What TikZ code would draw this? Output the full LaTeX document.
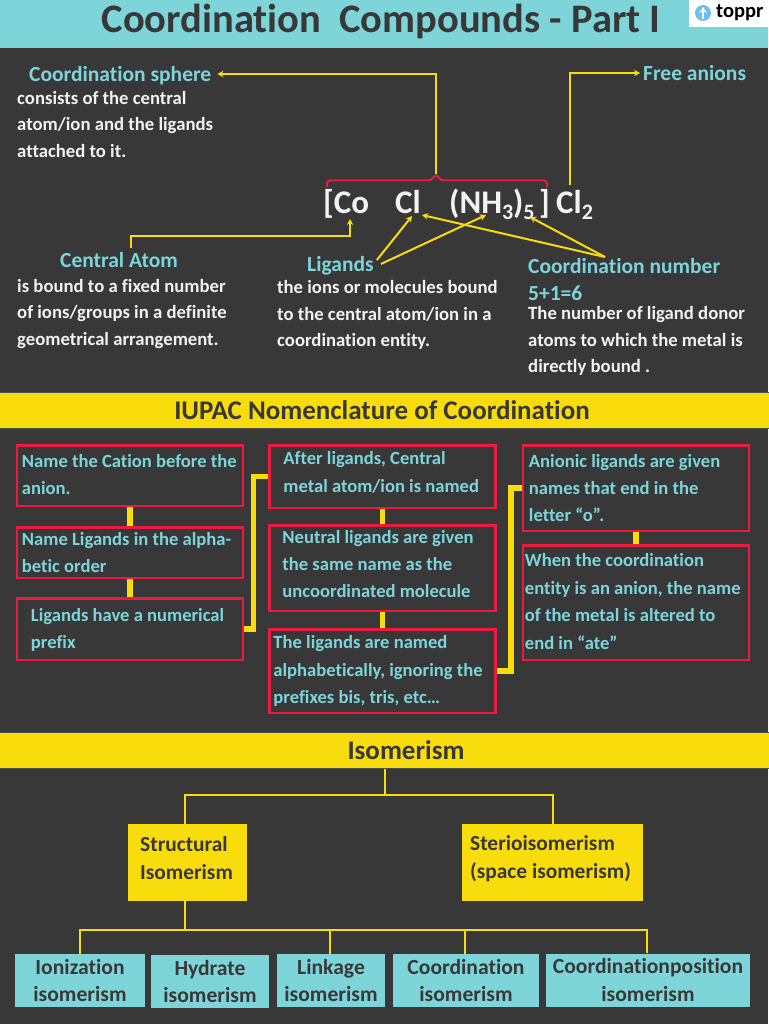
\documentclass[tikz,border=0pt]{standalone}
\usepackage{fontspec}
\setmainfont{Carlito}[BoldFont=Carlito Bold, Ligatures=NoCommon]
\usepackage{tikz}
\usetikzlibrary{positioning, arrows.meta}
\definecolor{slate}{HTML}{383838}
\definecolor{aqua}{HTML}{7DD5DA}
\definecolor{sun}{HTML}{F9DC0B}
\definecolor{crimson}{HTML}{E91C3F}
\definecolor{paper}{HTML}{F2F2F2}
\definecolor{logoblue}{HTML}{6CBFEF}
\newcommand{\lowered}[1]{\raisebox{-6pt}{\fontsize{22}{22}\selectfont #1}}
\tikzset{
    heading/.style={inner sep=0, text=slate, font=\bfseries\fontsize{#1}{#1}\selectfont},
    band/.style={fill=sun, draw=black!70, line width=0.5pt, minimum width=770pt, minimum height=36pt, inner sep=0},
    para/.style={inner sep=0, anchor=west, align=left, text=paper, font=\bfseries\fontsize{18.7}{26.6}\selectfont},
    tag/.style={inner sep=0, anchor=west, text=aqua, font=\bfseries\fontsize{21.5}{27}\selectfont},
    formula/.style={inner sep=0, anchor=base west, text=paper, font=\bfseries\fontsize{33}{33}\selectfont},
    redbox/.style={draw=crimson, line width=2.5pt, minimum width=226pt, inner sep=0},
    boxtext/.style={inner sep=0, anchor=west, align=left, text=aqua, font=\bfseries\fontsize{18.6}{27.4}\selectfont},
    sunbox/.style={fill=sun, inner sep=0, anchor=west, minimum height=77pt},
    suntext/.style={inner sep=0, anchor=west, align=left, text=slate, font=\bfseries\fontsize{21.4}{28}\selectfont},
    aquabox/.style={fill=aqua, inner sep=0, minimum height=53pt, align=center, text=slate, font=\bfseries\fontsize{21.6}{27.5}\selectfont},
    thicklink/.style={draw=sun, line width=5.5pt},
    thinlink/.style={draw=sun, line width=2pt},
    pointer/.style={draw=sun, line width=2pt, -{Stealth[length=6pt,width=6.5pt]}},
}
\begin{document}
\begin{tikzpicture}[x=1pt, y=-1pt]
    \useasboundingbox (0,0) rectangle (768,1024);
    \fill [slate] (0,0) rectangle (768,1024);
    % Title bar and logo
    \fill [aqua] (0,0) rectangle (768,48);
    \node [heading=40.5] (title) at (381,21) {Coordination~ Compounds - Part I};
    \fill [white] (689,0) rectangle (768,27);
    \fill [logoblue] (703,13) circle (8);
    \draw [white, line width=2pt, -{Stealth[length=6pt,width=8pt]}] (703,19) -- (703,7);
    \node [inner sep=0, anchor=west, text=black, font=\bfseries\fontsize{20.5}{20}\selectfont] (logo) at (716,13) {toppr};

    % Formula
    \node [formula] (co) at (323,214) {[Co};
    \node [formula] (cl) at (395,214) {Cl};
    \node [formula] (nh) at (449,214) {(NH\lowered{3})\lowered{5}};
    \node [formula] (close) at (539,214) {]};
    \node [formula] (cltwo) at (556,214) {Cl\lowered{2}};
    % Brace over the sphere
    \coordinate (bracetip) at (436,174);
    \draw [crimson, line width=2pt, rounded corners=3pt] (327,187) -- (327,180.5) -- (431,180.5) -- (bracetip) -- (441,180.5) -- (547,180.5) -- (547,187);

    % Upper labels
    \node [tag] (sphere) at (29,76) {Coordination sphere};
    \node [para] (spheretext) at (17,124.5) {consists of the central\\atom/ion and the ligands\\attached to it.};
    \node [tag] (anions) at (643,73) {Free anions};
    \draw [pointer] (bracetip) |- ([xshift=6pt,yshift=2pt]sphere.east);
    \coordinate (anionfoot) at (570,185);
    \draw [pointer] (anionfoot) |- ([xshift=-3pt]anions.west);

    % Lower labels
    \node [tag] (central) at (60,260) {Central Atom};
    \node [para] (centraltext) at (17,314) {is bound to a fixed number\\of ions/groups in a definite\\geometrical arrangement.};
    \node [tag] (ligands) at (307,266) {Ligands};
    \node [para] (ligandstext) at (277,315) {the ions or molecules bound\\to the central atom/ion in a\\coordination entity.};
    \node [tag, align=left] (number) at (528,279.5) {Coordination number\\5+1=6};
    \node [para] (numbertext) at (528,341) {The number of ligand donor\\atoms to which the metal is\\directly bound .};
    % Pointers to the formula
    \coordinate (centralfoot) at (131,248);
    \coordinate (numbertop) at (605,257);
    \coordinate (cotip) at (350,219);
    \coordinate (clleft) at (412,216);
    \coordinate (clright) at (422,215);
    \coordinate (nhtip) at (486,215);
    \coordinate (fivetip) at (530,217);
    \draw [pointer] (centralfoot) -- ++(0,-12) -| (cotip);
    \draw [pointer] ([xshift=3pt,yshift=6pt]ligands.east) -- (clleft);
    \draw [pointer] ([xshift=7pt,yshift=2pt]ligands.east) -- (nhtip);
    \draw [pointer] (numbertop) -- (clright);
    \draw [pointer] (numbertop) -- (fivetip);

    % IUPAC section
    \node [band] (iupac) at (384,410) {};
    \node [heading=27] (iupactitle) at (382,410) {IUPAC Nomenclature of Coordination};

    \node [redbox, minimum height=60.5pt] (boxa) at (130,475.5) {};
    \node [redbox, minimum height=50.5pt] (boxb) at (130,552.5) {};
    \node [redbox, minimum height=61.5pt] (boxc) at (130,629) {};
    \node [redbox, minimum height=62.5pt] (boxd) at (382.5,476.5) {};
    \node [redbox, minimum height=85.5pt] (boxe) at (382.5,568) {};
    \node [redbox, minimum height=83.5pt] (boxf) at (382.5,671) {};
    \node [redbox, minimum height=85.5pt] (boxg) at (636,488) {};
    \node [redbox, minimum height=114.5pt] (boxh) at (636,602.5) {};

    \node [boxtext] (texta) at ([xshift=6pt,yshift=1pt]boxa.west) {Name the Cation before the\\anion.};
    \node [boxtext] (textb) at ([xshift=6pt]boxb.west) {Name Ligands in the alpha-\\betic order};
    \node [boxtext] (textc) at ([xshift=15pt,yshift=-1pt]boxc.west) {Ligands have a numerical\\prefix};
    \node [boxtext] (textd) at ([xshift=15pt,yshift=4pt]boxd.west) {After ligands, Central\\metal atom/ion is named};
    \node [boxtext] (texte) at ([xshift=14pt,yshift=4pt]boxe.west) {Neutral ligands are given\\the same name as the\\uncoordinated molecule};
    \node [boxtext] (textf) at ([xshift=5pt]boxf.west) {The ligands are named\\alphabetically, ignoring the\\prefixes bis, tris, etc\dots};
    \node [boxtext] (textg) at ([xshift=7pt]boxg.west) {Anionic ligands are given\\names that end in the\\letter “o”.};
    \node [boxtext] (texth) at ([xshift=3pt,yshift=1pt]boxh.west) {When the coordination\\entity is an anion, the name\\of the metal is altered to\\end in “ate”};

    \draw [thicklink] (boxa) -- (boxb);
    \draw [thicklink] (boxb) -- (boxc);
    \draw [thicklink] (boxd) -- (boxe);
    \draw [thicklink] (boxe) -- (boxf);
    \draw [thicklink] (boxg) -- (boxh);
    \draw [thicklink] (boxc.east) -- ++(9,0) |- (boxd.west);
    \draw [thicklink] (boxf.east) -- ++(14,0) |- (boxg.west);

    % Isomerism section
    \node [band] (isomerism) at (384,750.5) {};
    \node [heading=27] (isotitle) at (406,750) {Isomerism};

    \node [sunbox, minimum width=119pt] (structural) at (128,862.5) {};
    \node [sunbox, minimum width=181pt] (sterio) at (462,862.5) {};
    \node [suntext] (structuraltext) at ([xshift=12pt,yshift=4pt]structural.west) {Structural\\Isomerism};
    \node [suntext] (steriotext) at ([xshift=8pt,yshift=4pt]sterio.west) {Sterioisomerism\\(space isomerism)};

    \node [aquabox, minimum width=130pt] (ionization) at (80,980.5) {Ionization\\isomerism};
    \node [aquabox, minimum width=118pt] (hydrate) at (210,981.5) {Hydrate\\isomerism};
    \node [aquabox, minimum width=108pt] (linkage) at (331,980.5) {Linkage\\isomerism};
    \node [aquabox, minimum width=146pt] (coordination) at (466,980.5) {Coordination\\isomerism};
    \node [aquabox, minimum width=204pt] (position) at (648,980) {Coordinationposition\\isomerism};

    % Tree lines
    \coordinate (upperjoint) at (385,795);
    \coordinate (lowerjoint) at (185,930);
    \draw [thinlink] (385,768.5) -- (upperjoint);
    \draw [thinlink] (structural.north -| lowerjoint) |- (upperjoint) -| (sterio.north -| 552.5,0);
    \draw [thinlink] (structural.south -| lowerjoint) -- (lowerjoint);
    \draw [thinlink] (ionization.north -| 79.5,0) |- (lowerjoint) -| (position.north -| 646.5,0);
    \draw [thinlink] (lowerjoint -| 330,0) -- (linkage.north -| 330,0);
    \draw [thinlink] (lowerjoint -| 465,0) -- (coordination.north -| 465,0);
\end{tikzpicture}
\end{document}
